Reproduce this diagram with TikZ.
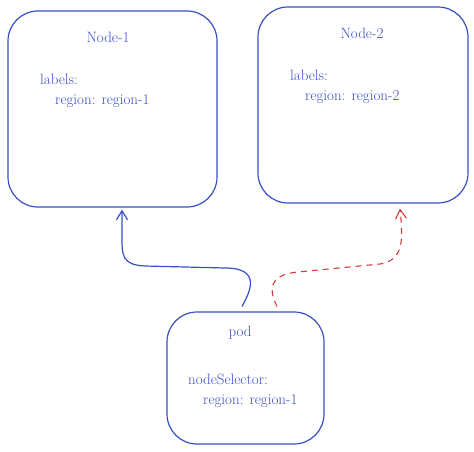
\documentclass[tikz,border=0pt]{standalone}
\usepackage{tikz}
\usetikzlibrary{arrows.meta}
\definecolor{inkblue}{RGB}{58,78,196}
\definecolor{inkred}{RGB}{214,58,58}
\tikzset{
  box/.style={draw=inkblue, line width=1.2pt, rounded corners=30pt, inner sep=0pt},
  txt/.style={text=inkblue, font=\fontsize{15}{20}\selectfont, inner sep=0pt},
  bluearrow/.style={draw=inkblue, line width=1.2pt, -{Straight Barb[length=9pt,width=11pt]}},
  redarrow/.style={draw=inkred, line width=1.1pt, dashed, dash pattern=on 6pt off 5pt, -{Straight Barb[length=9pt,width=11pt]}}
}
\begin{document}
\begin{tikzpicture}[x=1pt,y=-1pt]  %picture in pixel units
  \useasboundingbox (0,0) rectangle (474,452);
     %Boxes
  \node[box, minimum width=209pt, minimum height=196pt] (node1) at (112.5,109) {}; %Node-1
  \node[box, minimum width=210pt, minimum height=196pt] (node2) at (363,105) {}; %Node-2
  \node[box, minimum width=157pt, minimum height=132pt] (pod) at (245.5,378) {}; %pod
     %Texts
  \node[txt] (n1title) at (108,37) {Node-1};
  \node[txt, anchor=north west, align=left] (n1labels) at (40,74) {labels:\\\hspace*{15pt}region: region-1};
  \node[txt] (n2title) at (362,33) {Node-2};
  \node[txt, anchor=north west, align=left] (n2labels) at (290,70) {labels:\\\hspace*{15pt}region: region-2};
  \node[txt] (podtitle) at (240,333) {pod};
  \node[txt, anchor=north west, align=left] (podsel) at (188,374) {nodeSelector:\\\hspace*{15pt}region: region-1};
     %Connectors
  \coordinate (b0) at ([xshift=-3.5pt,yshift=5pt]pod.north);
  \coordinate (r0) at ([xshift=31.5pt,yshift=5pt]pod.north);
  \draw[bluearrow] (b0) .. controls (250,292) and (262,268) .. (225,268)
     -- (145,266) .. controls (122,265) and (122,255) .. (122,238)
     -- ([xshift=9.5pt,yshift=-2pt]node1.south); %pod -> Node-1
  \draw[redarrow] (r0) .. controls (270,292) and (266,275) .. (298,272)
     -- (380,264) .. controls (404,260) and (403,240) .. ([xshift=37pt,yshift=-5pt]node2.south); %pod -> Node-2
\end{tikzpicture}
\end{document}
